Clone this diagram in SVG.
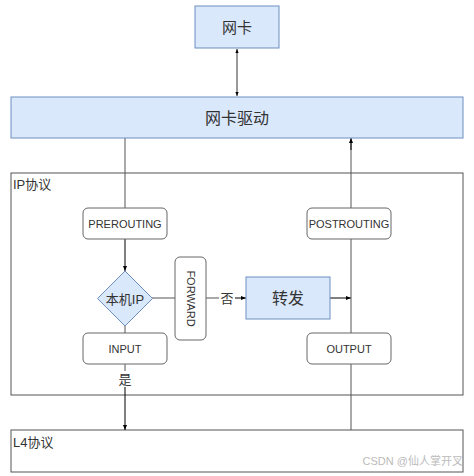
<svg xmlns="http://www.w3.org/2000/svg" width="474" height="476" viewBox="0 0 474 476">
<defs>
<marker id="ah" viewBox="0 0 10 10" refX="10" refY="5" markerWidth="5" markerHeight="5" orient="auto-start-reverse"><path d="M0,1 L10,5 L0,9 z" fill="#000"/></marker>
<style>
.blue{fill:#dae8fc;stroke:#6c8ebf;stroke-width:1}
.rnd{fill:#fff;stroke:#666;stroke-width:1}
.frame{fill:none;stroke:#555;stroke-width:1}
.ln{fill:none;stroke:#555;stroke-width:1}
.ar{fill:none;stroke:#000;stroke-width:1;marker-end:url(#ah)}
text{font-family:"Liberation Sans","Noto Sans CJK SC",sans-serif;fill:#333}
.c{text-anchor:middle;dominant-baseline:central}
.s{font-size:11px}
</style>
</defs>
<rect width="474" height="476" fill="#fff"/>
<g id="ip-frame"><rect class="frame" x="11" y="173" width="452" height="222"/><text x="13" y="184" font-size="13" dominant-baseline="central">IP协议</text></g>
<g id="l4"><rect class="frame" x="11" y="430" width="452" height="42"/><text x="13" y="442" font-size="13" dominant-baseline="central">L4协议</text></g>
<g id="connectors">
<line class="ln" x1="125" y1="138" x2="125" y2="208"/>
<line class="ar" x1="125" y1="239" x2="125" y2="271"/>
<line class="ln" x1="125" y1="326" x2="125" y2="333"/>
<line class="ln" x1="125" y1="364" x2="125" y2="371"/>
<line class="ar" x1="125" y1="387" x2="125" y2="430"/>
<line class="ln" x1="152" y1="298" x2="175" y2="298"/>
<line class="ln" x1="206" y1="298" x2="219" y2="298"/>
<line class="ar" x1="235" y1="298" x2="246" y2="298"/>
<line class="ar" x1="330" y1="298" x2="351" y2="298"/>
<line class="ln" x1="351" y1="430" x2="351" y2="140"/>
<line class="ar" x1="351" y1="150" x2="351" y2="138"/>
<line x1="237" y1="49" x2="237" y2="96" stroke="#000" stroke-width="0.8" marker-start="url(#ah)" marker-end="url(#ah)"/>
<text class="c" x="125" y="379" font-size="13">是</text>
<text class="c" x="227" y="298" font-size="13">否</text>
</g>
<g id="nic"><rect class="blue" x="195" y="6" width="84" height="42"/><text class="c" x="237" y="27" font-size="15">网卡</text></g>
<g id="driver"><rect class="blue" x="11" y="97" width="452" height="41"/><text class="c" x="237" y="118" font-size="16">网卡驱动</text></g>
<g id="prerouting"><rect class="rnd" x="83" y="208" width="84" height="31" rx="5"/><text class="c s" x="125" y="224">PREROUTING</text></g>
<g id="postrouting"><rect class="rnd" x="307" y="208" width="84" height="31" rx="5"/><text class="c s" x="349" y="224">POSTROUTING</text></g>
<g id="local-ip"><path class="blue" d="M125,271 L152.5,298.5 L125,326 L97.5,298.5 z"/><text class="c" x="125" y="299" font-size="13">本机IP</text></g>
<g id="forward"><rect class="rnd" x="175" y="257" width="31" height="83" rx="5"/><text class="c s" x="0" y="0" transform="translate(190.5,298.5) rotate(90)">FORWARD</text></g>
<g id="zhuanfa"><rect class="blue" x="246" y="277" width="84" height="42"/><text class="c" x="288" y="298" font-size="16">转发</text></g>
<g id="input"><rect class="rnd" x="83" y="333" width="84" height="31" rx="5"/><text class="c s" x="125" y="349">INPUT</text></g>
<g id="output"><rect class="rnd" x="307" y="333" width="84" height="31" rx="5"/><text class="c s" x="349" y="349">OUTPUT</text></g>
<text x="463" y="465" font-size="11" text-anchor="end" style="fill:#bbb">CSDN @仙人掌开叉</text>
</svg>
